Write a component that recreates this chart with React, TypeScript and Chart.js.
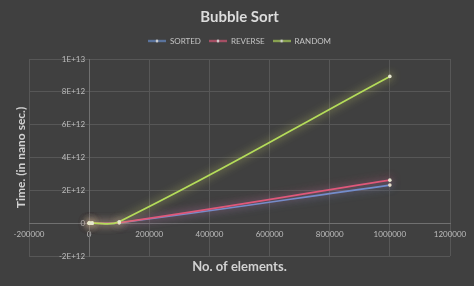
import React, { useEffect, useRef } from "react";
import { Chart, registerables } from "chart.js";

Chart.register(...registerables);

const TITLE = "Bubble Sort";
const X_TITLE = "No. of elements.";
const Y_TITLE = "Time. (in nano sec.)";

const SERIES_NAMES = ["SORTED", "REVERSE", "RANDOM"];
const ELEMENTS = [100, 1000, 10000, 100000, 1000000];
const SORTED = [3.0e4, 2.4e6, 2.3e8, 2.3e10, 2.32e12];
const REVERSE = [3.4e4, 2.7e6, 2.6e8, 2.6e10, 2.62e12];
const RANDOM = [9.5e4, 9.0e6, 8.9e8, 8.9e10, 8.94e12];

const X_MIN = -200000;
const X_MAX = 1200000;
const X_STEP = 200000;
const Y_MIN = -2e12;
const Y_MAX = 1e13;
const Y_STEP = 2e12;

const COLORS = ["#6a93d4", "#e0587a", "#b4dc5a"];
const GLOWS = ["rgba(106,147,212,0.8)", "rgba(224,88,122,0.8)", "rgba(225,232,110,0.9)"];
const FONT = "Lato, 'Open Sans', sans-serif";

function fmtExp(v: number): string {
  if (v === 0) return "0";
  const e = Math.floor(Math.log10(Math.abs(v)) + 1e-9);
  const m = Math.round((v / Math.pow(10, e)) * 100) / 100;
  return `${m}E+${e}`;
}

function makeSample(color: string): HTMLCanvasElement {
  const c = document.createElement("canvas");
  c.width = 18;
  c.height = 5;
  const g = c.getContext("2d")!;
  g.strokeStyle = color;
  g.lineWidth = 1.5;
  g.beginPath();
  g.moveTo(0, 2.5);
  g.lineTo(18, 2.5);
  g.stroke();
  g.fillStyle = "#e8e8e8";
  g.beginPath();
  g.arc(9, 2.5, 1.3, 0, Math.PI * 2);
  g.fill();
  return c;
}

export default function App() {
  const ref = useRef<HTMLCanvasElement>(null);

  useEffect(() => {
    document.body.style.margin = "0";
    document.body.style.background = "#404040";
    const samples = COLORS.map(makeSample);
    const seriesValues = [SORTED, REVERSE, RANDOM];

    const bgPlugin = {
      id: "bg",
      beforeDraw(chart: any) {
        const { ctx, width, height } = chart;
        ctx.save();
        ctx.fillStyle = "#404040";
        ctx.fillRect(0, 0, width, height);
        ctx.restore();
      },
    };

    const glowPlugin = {
      id: "glow",
      beforeDatasetDraw(chart: any, args: any) {
        const ctx = chart.ctx;
        ctx.save();
        ctx.shadowColor = GLOWS[args.index];
        ctx.shadowBlur = 8;
      },
      afterDatasetDraw(chart: any) {
        chart.ctx.restore();
      },
    };

    const legendSpacer = {
      id: "legendSpacer",
      afterInit(chart: any) {
        const lg = chart.legend;
        if (lg && !lg._patched) {
          const orig = lg.fit;
          lg.fit = function () {
            orig.call(this);
            this.height += 4;
          };
          lg._patched = true;
        }
      },
    };

    const axisTitles = {
      id: "axisTitles",
      afterDraw(chart: any) {
        const { ctx, chartArea } = chart;
        ctx.save();
        ctx.fillStyle = "#d2d2d2";
        ctx.textAlign = "center";
        ctx.textBaseline = "middle";
        ctx.font = `bold 13px ${FONT}`;
        ctx.fillText(X_TITLE, (chartArea.left + chartArea.right) / 2, chartArea.bottom + 11);
        ctx.translate(21, (chartArea.top + chartArea.bottom) / 2);
        ctx.rotate(-Math.PI / 2);
        ctx.font = `bold 12px ${FONT}`;
        ctx.fillText(Y_TITLE, 0, 0);
        ctx.restore();
      },
    };

    const chart = new Chart(ref.current!, {
      type: "line",
      data: {
        datasets: SERIES_NAMES.map((name, i) => ({
          label: name,
          data: ELEMENTS.map((x, j) => ({ x, y: seriesValues[i][j] })),
          borderColor: COLORS[i],
          backgroundColor: "#e6e6d0",
          borderWidth: 1.7,
          pointRadius: 1.8,
          pointBorderWidth: 0,
          pointHoverRadius: 1.8,
          tension: 0.4,
          fill: false,
          order: 3 - i,
        })),
      },
      options: {
        responsive: false,
        animation: false,
        events: [],
        layout: { padding: { top: 0, left: 29, right: 24, bottom: 30 } },
        scales: {
          x: {
            type: "linear",
            position: { y: 0 } as any,
            min: X_MIN,
            max: X_MAX,
            ticks: {
              stepSize: X_STEP,
              color: "#bdbdbd",
              font: { family: FONT, size: 8 },
              padding: 6,
              maxRotation: 0,
              autoSkip: false,
              callback: (v: any) => String(v),
            },
            grid: { color: "#575757", drawTicks: false, lineWidth: 1 },
            border: { color: "#707070", width: 1 },
          },
          y: {
            type: "linear",
            position: { x: 0 } as any,
            min: Y_MIN,
            max: Y_MAX,
            ticks: {
              stepSize: Y_STEP,
              color: "#bdbdbd",
              font: { family: FONT, size: 8 },
              autoSkip: false,
              callback: (v: any) => fmtExp(Number(v)) + "  ",
            },
            grid: { color: "#575757", drawTicks: false, lineWidth: 1 },
            border: { color: "#707070", width: 1 },
          },
        },
        plugins: {
          title: {
            display: true,
            text: TITLE,
            color: "#dcdcdc",
            font: { family: FONT, size: 15, weight: "bold", lineHeight: 1.2 },
            padding: { top: 8, bottom: 3 },
          },
          legend: {
            display: true,
            position: "top",
            labels: {
              color: "#c4c4c4",
              font: { family: FONT, size: 8 },
              usePointStyle: true,
              pointStyleWidth: 18,
              padding: 8,
              generateLabels: (ch: any) => {
                const items = (Chart.defaults.plugins.legend.labels as any).generateLabels(ch);
                return items
                  .map((it: any) => ({ ...it, pointStyle: samples[it.datasetIndex] }))
                  .sort((a: any, b: any) => a.datasetIndex - b.datasetIndex);
              },
            },
          },
          tooltip: { enabled: false },
        },
      },
      plugins: [bgPlugin, glowPlugin, legendSpacer, axisTitles],
    } as any);

    return () => chart.destroy();
  }, []);

  return (
    <div style={{ width: 474, height: 286 }}>
      <canvas ref={ref} width={474} height={286} style={{ display: "block" }} />
    </div>
  );
}
